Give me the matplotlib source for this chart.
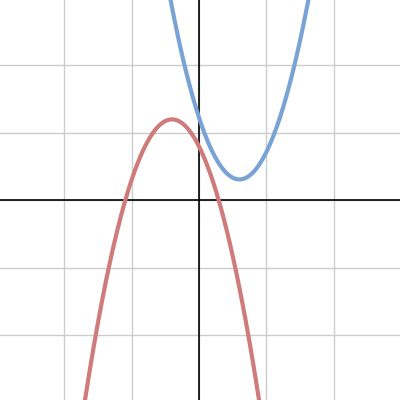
import numpy as np
import matplotlib
matplotlib.use("Agg")
import matplotlib.pyplot as plt

# parabolas y = a*(x-h)^2 + k
blue_coef = [2.55, 0.6, 0.31]
red_coef = [-2.5, -0.4, 1.2]
grid_ticks = [-3, -2, -1, 0, 1, 2, 3]

fig = plt.figure(figsize=(4, 4), dpi=100)
ax = fig.add_axes([0, 0, 1, 1])
ax.set_xlim(-2.95, 2.98)
ax.set_ylim(-2.96, 2.97)
for t in grid_ticks:
    ax.axvline(t, color="#cccccc", lw=1, zorder=0)
    ax.axhline(t, color="#cccccc", lw=1, zorder=0)
ax.axvline(0, color="black", lw=1.2, zorder=1)
ax.axhline(0, color="black", lw=1.2, zorder=1)
x = np.linspace(-3, 3, 800)
a, h, k = red_coef
ax.plot(x, a * (x - h) ** 2 + k, color="#cf7b7b", lw=3, zorder=2)
a, h, k = blue_coef
ax.plot(x, a * (x - h) ** 2 + k, color="#7aa3d5", lw=3, zorder=3)
ax.axis("off")
fig.savefig("out.png", dpi=100)
